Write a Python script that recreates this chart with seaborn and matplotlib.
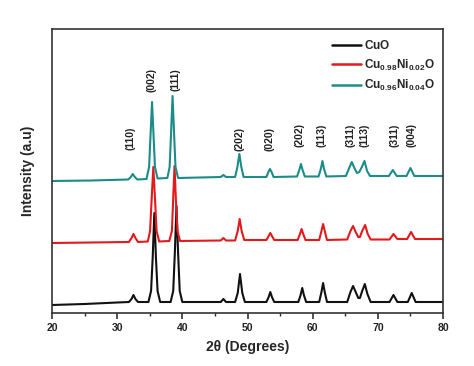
import numpy as np
import pandas as pd
import matplotlib
matplotlib.use("Agg")
import matplotlib.pyplot as plt
import seaborn as sns

# ---------------- data ----------------
samples = ["CuO", "Cu0.98Ni0.02O", "Cu0.96Ni0.04O"]
legend_labels = [r"$\mathbf{CuO}$",
                 r"$\mathbf{Cu_{0.98}Ni_{0.02}O}$",
                 r"$\mathbf{Cu_{0.96}Ni_{0.04}O}$"]

cuo_points = [(20, 8), (25, 9), (30, 10.5), (31.8, 11), (32.2, 14), (32.5, 18), (32.8, 14), (33.2, 11),
              (34.8, 11), (35.2, 22), (35.45, 55), (35.7, 100), (35.95, 55), (36.2, 22), (36.6, 11),
              (38.2, 11), (38.6, 22), (38.85, 60), (39.1, 107), (39.35, 60), (39.6, 22), (40.0, 11),
              (45.9, 11), (46.3, 14), (46.7, 11),
              (48.1, 11), (48.5, 20), (48.85, 39), (49.2, 20), (49.6, 11),
              (52.9, 11), (53.25, 16), (53.5, 21), (53.75, 16), (54.1, 11),
              (57.8, 11), (58.15, 18), (58.4, 25), (58.65, 18), (59.0, 11),
              (61.0, 11), (61.35, 21), (61.6, 30), (61.85, 21), (62.2, 11),
              (65.3, 11), (65.8, 21), (66.2, 27), (66.6, 21), (67.0, 15), (67.25, 15),
              (67.6, 22), (68.0, 29), (68.4, 19), (68.9, 11),
              (71.8, 11), (72.4, 18), (73.0, 11),
              (74.6, 11), (75.2, 20), (75.8, 11), (80, 11)]

ni02_points = [(20, 10), (26, 10.5), (31.8, 11), (32.2, 15), (32.5, 19), (32.8, 15), (33.2, 11),
               (34.7, 11.5), (35.05, 22), (35.3, 55), (35.55, 86), (35.8, 55), (36.05, 22), (36.45, 11.5),
               (38.0, 12), (38.4, 22), (38.6, 55), (38.8, 87), (39.0, 55), (39.25, 22), (39.65, 12),
               (45.9, 12.5), (46.3, 15), (46.7, 12.5),
               (48.1, 12.5), (48.5, 22), (48.8, 34), (49.1, 22), (49.5, 13),
               (52.9, 13), (53.25, 17), (53.5, 20), (53.75, 17), (54.1, 13),
               (57.7, 13), (58.05, 19), (58.3, 24), (58.55, 19), (58.9, 13),
               (61.0, 13), (61.35, 22), (61.6, 29), (61.85, 22), (62.2, 13),
               (65.3, 13.5), (65.8, 22), (66.2, 27), (66.6, 21), (67.0, 16), (67.25, 16),
               (67.6, 22), (68.05, 28), (68.45, 19), (68.9, 13.5),
               (71.8, 13.5), (72.4, 19), (73.0, 14),
               (74.5, 14), (75.1, 21), (75.7, 14), (80, 14)]

ni04_points = [(20, 12), (26, 12.5), (31.7, 13.5), (32.1, 16), (32.4, 19), (32.7, 16), (33.1, 13.5),
               (34.5, 14), (34.9, 26), (35.12, 58), (35.35, 91), (35.58, 58), (35.8, 26), (36.2, 14.5),
               (37.7, 15), (38.05, 26), (38.27, 60), (38.5, 97), (38.73, 60), (38.95, 26), (39.35, 15),
               (45.9, 16), (46.3, 18), (46.7, 16),
               (48.1, 16), (48.45, 26), (48.75, 39), (49.05, 26), (49.4, 16),
               (52.9, 16), (53.2, 21), (53.45, 24), (53.7, 21), (54.0, 16),
               (57.6, 16.5), (57.95, 23), (58.2, 29), (58.45, 23), (58.8, 16.5),
               (60.9, 16.5), (61.25, 24), (61.5, 32), (61.75, 24), (62.1, 16.5),
               (65.1, 17), (65.6, 25), (66.0, 31), (66.4, 25), (66.8, 20), (67.15, 21),
               (67.55, 26), (67.95, 32), (68.35, 22), (68.8, 17),
               (71.7, 17), (72.3, 23), (72.9, 17),
               (74.4, 17), (75.0, 25), (75.6, 17), (80, 17)]

# hkl annotations
hkl_labels = ["(110)", "(002)", "(111)", "(202)", "(020)", "(202)", "(113)",
              "(311)", "(113)", "(311)", "(004)"]
hkl_2theta = [32.1, 35.3, 38.9, 48.7, 53.3, 58.05, 61.4, 65.8, 67.9, 72.5, 75.2]

# ---------------- styling / layout ----------------
offsets = [0, 60, 120]
colors = ["#111111", "#e3191c", "#1b8c88"]
hkl_y = [175, 233, 233, 174, 174, 178, 178, 178, 178, 178, 178]

sns.set_style("ticks")
plt.rcParams["font.family"] = ["Liberation Sans", "DejaVu Sans"]
plt.rcParams["font.weight"] = "bold"
plt.rcParams["mathtext.fontset"] = "custom"
plt.rcParams["mathtext.bf"] = "Liberation Sans:bold"
plt.rcParams["mathtext.rm"] = "Liberation Sans"

frames = []
for name, pts, off in zip(samples, [cuo_points, ni02_points, ni04_points], offsets):
    arr = np.array(pts, float)
    frames.append(pd.DataFrame({"two_theta": arr[:, 0],
                                "intensity": arr[:, 1] + off,
                                "sample": name}))
df = pd.concat(frames, ignore_index=True)

fig = plt.figure(figsize=(4.74, 3.66), dpi=100)
ax = fig.add_axes([52 / 474, 53 / 366, 391 / 474, 284 / 366])

sns.lineplot(data=df, x="two_theta", y="intensity", hue="sample",
             hue_order=samples, palette=colors, sort=False, estimator=None,
             linewidth=1.5, ax=ax)

ax.set_xlim(20, 80)
ax.set_ylim(0, 284)
ax.set_xticks(range(20, 81, 10))
ax.set_xticks(range(25, 80, 10), minor=True)
ax.set_yticks([])
ax.tick_params(axis="x", which="major", direction="out", length=4, width=1.1,
               labelsize=7.5, pad=3, colors="#222222")
ax.tick_params(axis="x", which="minor", direction="out", length=2.5, width=1.0)
for lab in ax.get_xticklabels():
    lab.set_fontweight("bold")
for sp in ax.spines.values():
    sp.set_visible(True)
    sp.set_linewidth(1.2)
    sp.set_color("#333333")

ax.set_xlabel("2θ (Degrees)", fontsize=10, fontweight="bold", labelpad=5)
ax.set_ylabel("Intensity (a.u)", fontsize=10, fontweight="bold", labelpad=12)

for lab, x, y in zip(hkl_labels, hkl_2theta, hkl_y):
    ax.text(x, y, lab, rotation=90, ha="center", va="center",
            fontsize=7.5, fontweight="bold", color="#222222")

handles, _ = ax.get_legend_handles_labels()
leg = ax.legend(handles, legend_labels, loc="upper left",
                bbox_to_anchor=(0.70, 0.985), frameon=False, fontsize=8.5,
                handlelength=2.5, handletextpad=0.25, borderpad=0,
                labelspacing=0.45)
for line in leg.get_lines():
    line.set_linewidth(1.8)

fig.savefig("out.png", dpi=100)
